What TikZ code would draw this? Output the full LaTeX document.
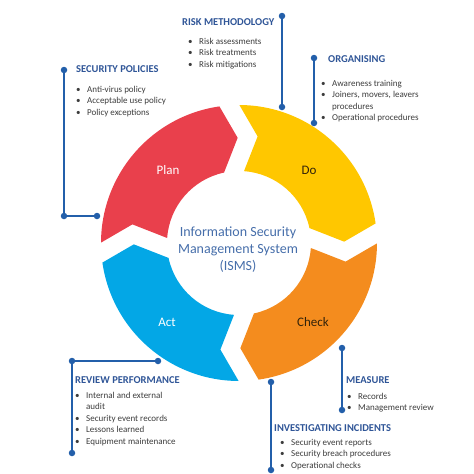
\documentclass[tikz,border=0pt]{standalone}
\usepackage{fontspec}
\setmainfont{Carlito}
\usepackage{tikz}
\definecolor{planred}{RGB}{233, 64, 76}
\definecolor{doyellow}{RGB}{255, 199, 0}
\definecolor{checkorange}{RGB}{244, 140, 30}
\definecolor{actblue}{RGB}{3, 167, 230}
\definecolor{linkblue}{RGB}{35, 95, 170}
\definecolor{titleblue}{RGB}{47, 85, 151}
\definecolor{bodytext}{RGB}{60, 60, 60}
\definecolor{centerblue}{RGB}{70, 110, 170}
\definecolor{darklabel}{RGB}{50, 35, 10}
\newcommand{\bulletlist}[1]{\begin{tabular}[t]{@{}l@{\hspace{6.5pt}}l@{}}#1\end{tabular}}

\begin{document}
\begin{tikzpicture}[x=1pt, y=-1pt,
	link/.style={draw=linkblue, line width=1.6pt},
	dot/.style={circle, fill=linkblue, inner sep=0pt, minimum size=6.5pt},
	heading/.style={anchor=base west, inner sep=0pt, text=titleblue, font=\fontsize{10.5}{12}\selectfont\bfseries},
	items/.style={anchor=base west, inner sep=0pt, text=bodytext, font=\fontsize{9}{11.5}\selectfont},
	phase/.style={font=\fontsize{13}{15}\selectfont}]
	\useasboundingbox (0,0) rectangle (474,474);
	% Anillo PDCA
	\begin{scope}[shift={(239,243)}, yscale=-1]
		\foreach \a/\col in {184/planred, 94/doyellow, 4/checkorange, -86/actblue} {
			\fill[\col] ({\a-4.16}:138) arc[start angle={\a-4.16}, end angle={\a-85.84}, radius=138]
				-- ({\a-93.27}:105.2) -- ({\a-82.02}:72)
				arc[start angle={\a-82.02}, end angle={\a-7.98}, radius=72]
				-- ({\a-13.91}:108.2) -- cycle;
		}
	\end{scope}
	\node[phase, text=white] (plan) at (168,170) {Plan};
	\node[phase, text=darklabel] (do) at (309,170) {Do};
	\node[phase, text=darklabel] (check) at (313,322) {Check};
	\node[phase, text=white] (act) at (167,322) {Act};
	\node[text=centerblue, align=center, font=\fontsize{14}{17}\selectfont] (isms) at (238,250)
		{Information Security\\Management System\\(ISMS)};
	% Metodología de riesgos
	\node[dot] (risktop) at (282,16) {};
	\node[dot] (riskbot) at (282,107) {};
	\draw[link] (risktop) -- (riskbot);
	\node[heading] (risk) at (182,25.5) {RISK METHODOLOGY};
	\node[items] (risklist) at (188,44) {\bulletlist{\textbullet & Risk assessments\\ \textbullet & Risk treatments\\ \textbullet & Risk mitigations}};
	% Organización
	\node[dot] (orgtop) at (314,58) {};
	\node[dot] (orgbot) at (314,123) {};
	\draw[link] (orgtop) -- (orgbot);
	\node[heading] (org) at (328,62.5) {ORGANISING};
	\node[items] (orglist) at (321,86) {\bulletlist{\textbullet & Awareness training\\ \textbullet & Joiners, movers, leavers\\ & procedures\\ \textbullet & Operational procedures}};
	% Políticas de seguridad
	\node[dot] (poltop) at (64,70) {};
	\node[dot] (polcorner) at (64,216) {};
	\node[dot] (polend) at (97,216) {};
	\draw[link] (poltop) -- (polcorner) -- (polend);
	\node[heading] (pol) at (76,72.5) {SECURITY POLICIES};
	\node[items] (pollist) at (76,92) {\bulletlist{\textbullet & Anti-virus policy\\ \textbullet & Acceptable use policy\\ \textbullet & Policy exceptions}};
	% Revisión del desempeño
	\node[dot] (revend) at (158,361) {};
	\node[dot] (revcorner) at (72,361) {};
	\node[dot] (revbot) at (72,453) {};
	\draw[link] (revend) -- (revcorner) -- (revbot);
	\node[heading] (rev) at (75,383.5) {REVIEW PERFORMANCE};
	\node[items] (revlist) at (75,398) {\bulletlist{\textbullet & Internal and external\\ & audit\\ \textbullet & Security event records\\ \textbullet & Lessons learned\\ \textbullet & Equipment maintenance}};
	% Medición
	\node[dot] (meastop) at (342,348) {};
	\node[dot] (measbot) at (342,410) {};
	\draw[link] (meastop) -- (measbot);
	\node[heading] (meas) at (346,383.5) {MEASURE};
	\node[items] (measlist) at (347,399) {\bulletlist{\textbullet & Records\\ \textbullet & Management review}};
	% Investigación de incidentes
	\node[dot] (invtop) at (271,382) {};
	\node[dot] (invbot) at (271,470) {};
	\draw[link] (invtop) -- (invbot);
	\node[heading] (inv) at (274,431.5) {INVESTIGATING INCIDENTS};
	\node[items] (invlist) at (280,445) {\bulletlist{\textbullet & Security event reports\\ \textbullet & Security breach procedures\\ \textbullet & Operational checks}};
\end{tikzpicture}
\end{document}
